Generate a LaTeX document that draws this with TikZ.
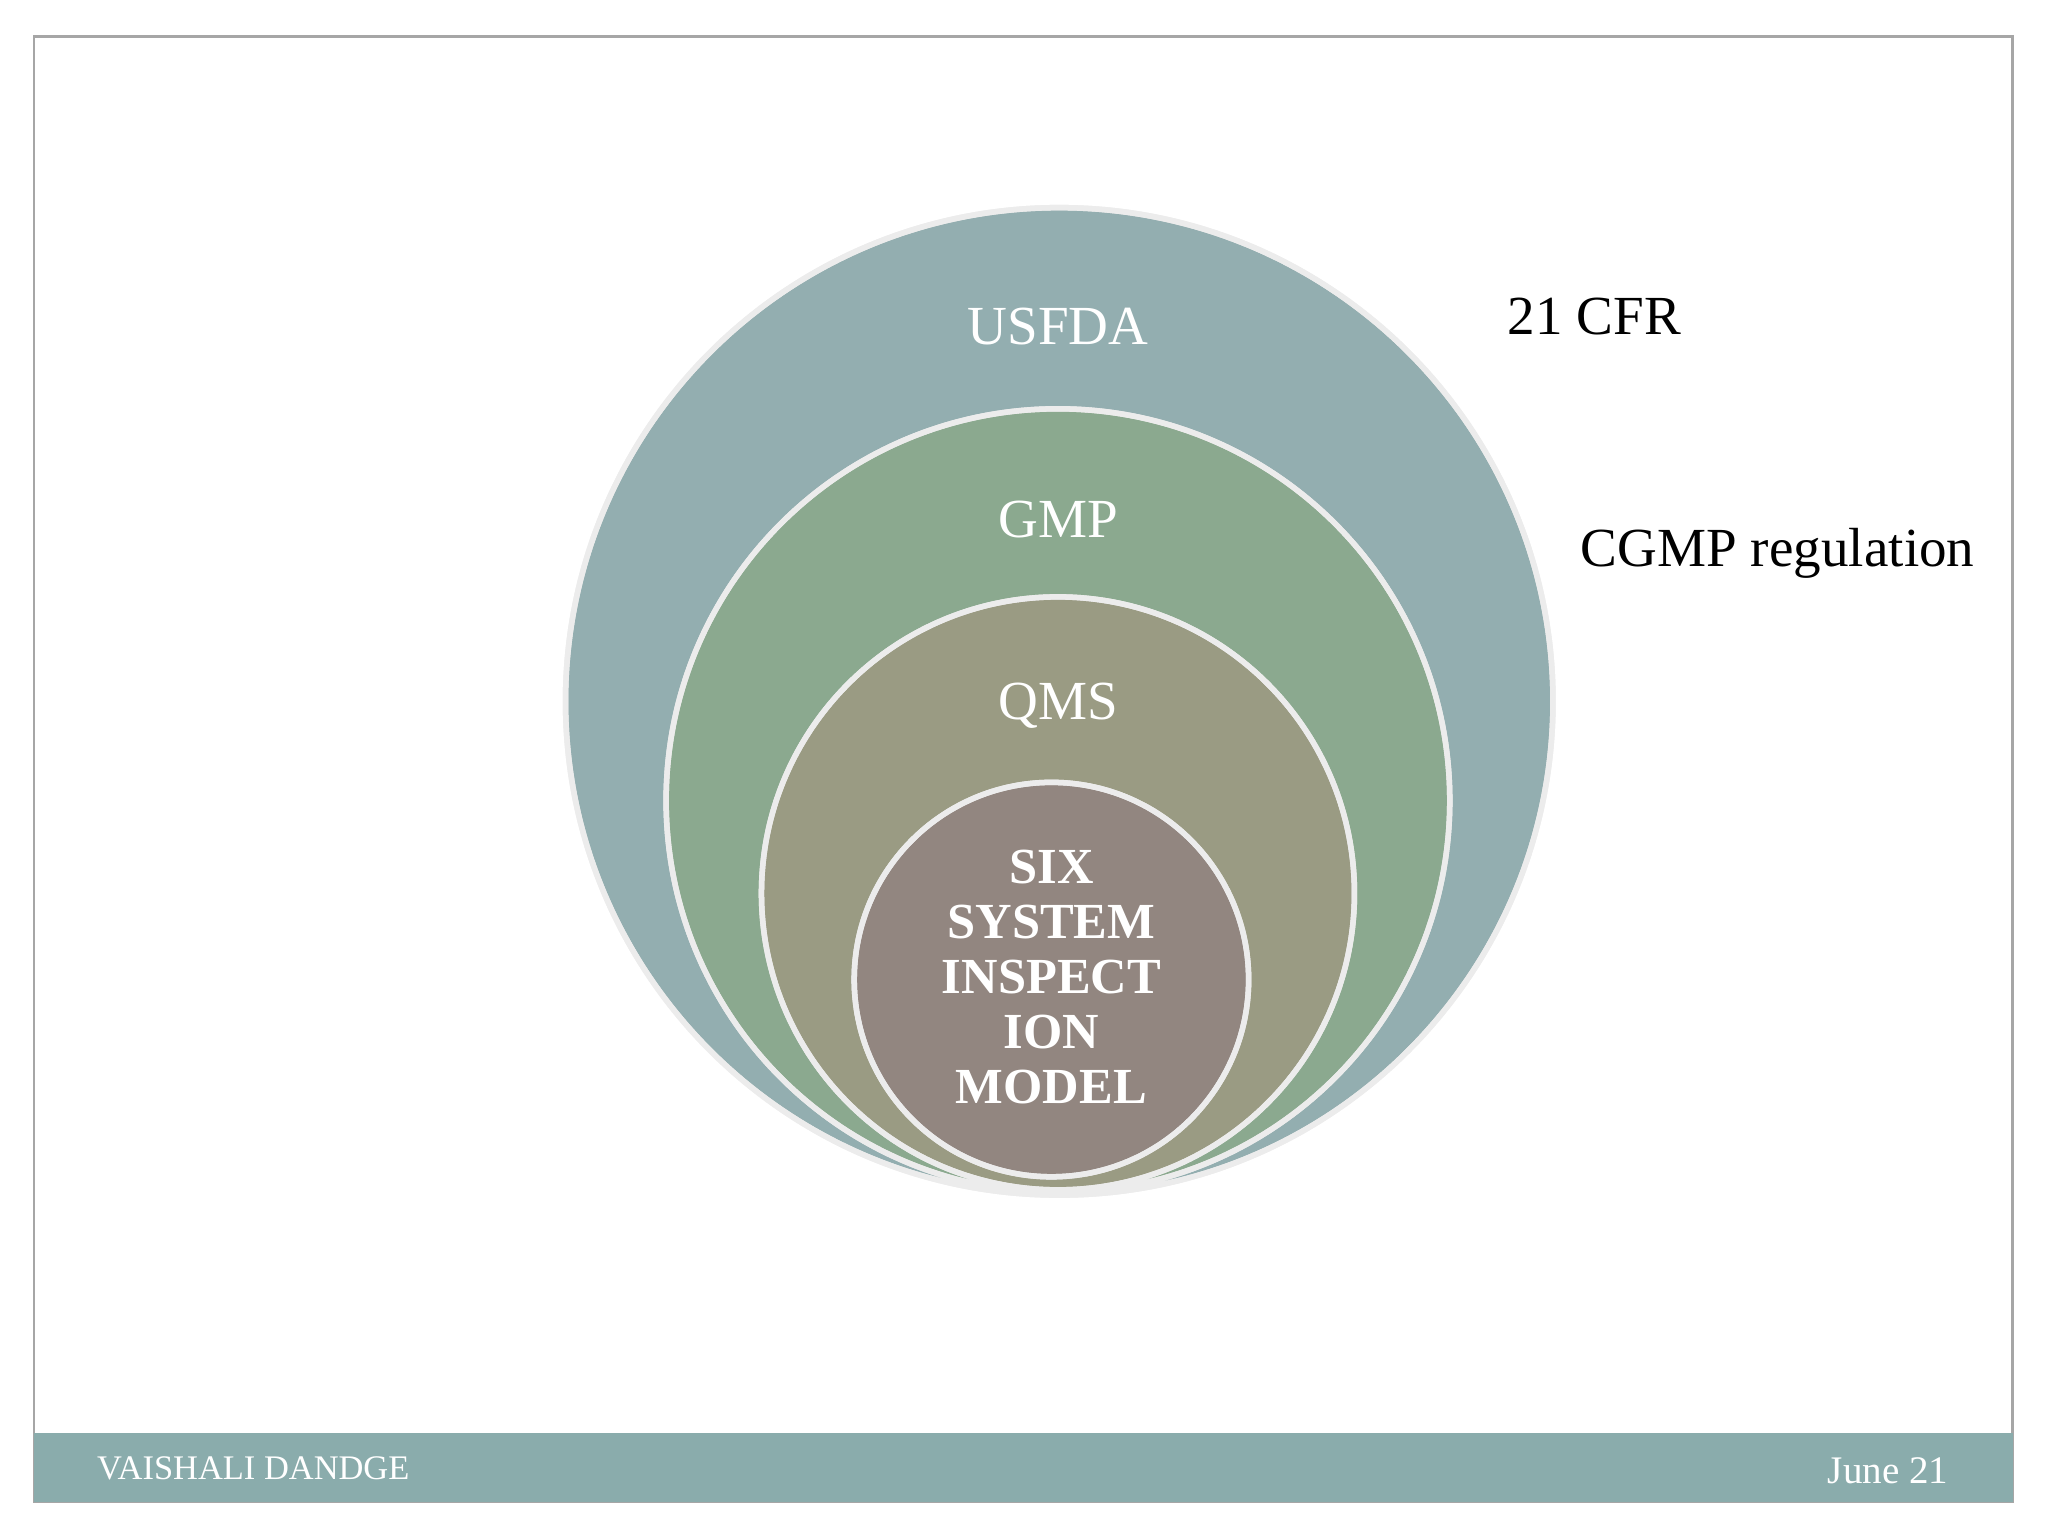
\documentclass[tikz,border=0pt]{standalone}
\usepackage{fontspec}
\setmainfont{Liberation Serif}
\usetikzlibrary{positioning}
\definecolor{fdacol}{HTML}{93AEB0}
\definecolor{gmpcol}{HTML}{8BA98F}
\definecolor{qmscol}{HTML}{9A9B83}
\definecolor{sixcol}{HTML}{928680}
\definecolor{barcol}{HTML}{8AACAC}
\tikzset{
  ring/.style={draw=white!85!gray, line width=1.2pt},
  lbl/.style={text=white, font=\fontsize{12}{14}\selectfont},
  side/.style={text=black, font=\fontsize{12}{14}\selectfont, anchor=west},
  foot/.style={text=white, font=\fontsize{7.5}{9}\selectfont}
}
\begin{document}
\begin{tikzpicture}[x=0.01cm, y=-0.01cm]
\useasboundingbox (0,0) rectangle (1568,1176);
\fill[white] (0,0) rectangle (1568,1176);
\draw[gray!70, line width=0.6pt] (26,28) rectangle (1541,1150);
\fill[barcol] (26,1097) rectangle (1541,1150);
\node[foot, anchor=west] (author) at (62,1124) {VAISHALI DANDGE};
\node[foot, anchor=east, font=\fontsize{8.5}{10}\selectfont] (date) at (1504,1126) {June 21};
% nested circles
\fill[ring, fill=fdacol] (811,537) circle (378);
\fill[ring, fill=gmpcol] (810,613) circle (300);
\fill[ring, fill=qmscol] (810,684) circle (227);
\fill[ring, fill=sixcol] (805,750) circle (151);
\draw[ring] (811,537) circle (378) (810,613) circle (300) (810,684) circle (227) (805,750) circle (151);
\node[lbl] (usfda) at (810,250) {USFDA};
\node[lbl] (gmp) at (810,398) {GMP};
\node[lbl] (qms) at (810,540) {QMS};
\node[lbl, font=\bfseries\fontsize{11}{12}\selectfont, align=center] (six) at (805,748)
  {SIX\\SYSTEM\\INSPECT\\ION\\MODEL};
\node[side] (cfr) at (1142,242) {21 CFR};
\node[side] (cgmp) at (1198,424) {CGMP regulation};
\end{tikzpicture}
\end{document}
